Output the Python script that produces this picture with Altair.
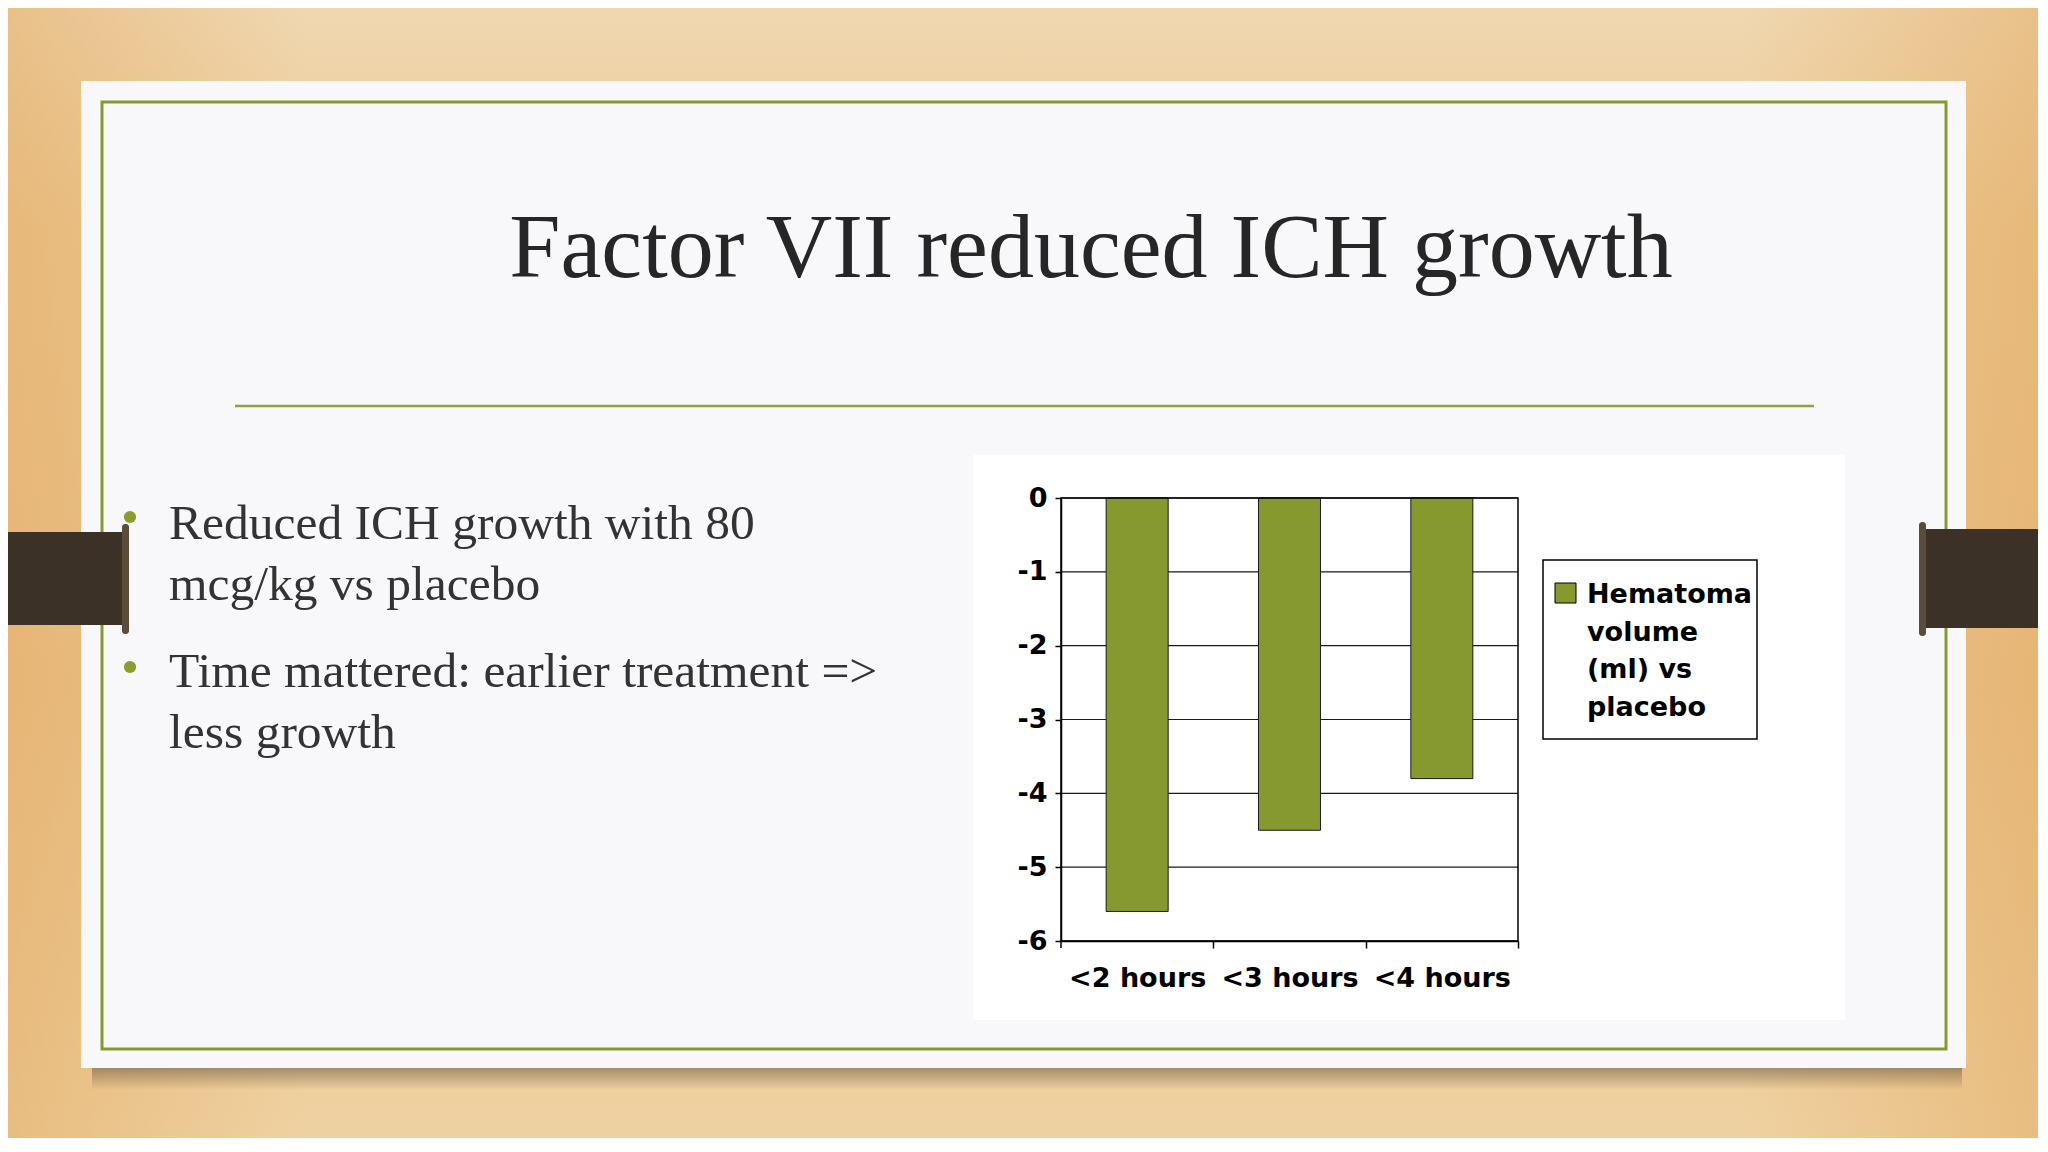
import altair as alt
import pandas as pd

# ---- data -------------------------------------------------------------
categories = ["<2 hours", "<3 hours", "<4 hours"]
hematoma_change = [-5.6, -4.5, -3.8]
y_ticks = [0, -1, -2, -3, -4, -5, -6]
title_text = "Factor VII reduced ICH growth"
bullet1_lines = ["Reduced ICH growth with 80", "mcg/kg vs placebo"]
bullet2_lines = ["Time mattered: earlier treatment =>", "less growth"]
legend_lines = ["Hematoma", "volume", "(ml) vs", "placebo"]

# ---- layout (page pixels) ---------------------------------------------
OX, OY = 1061, 498          # page position of the plot origin
W, H = 457, 443             # plot area
STEP = W / 3


def px(v):
    return v - OX


def py(v):
    return v - OY


bars_df = pd.DataFrame({"period": categories, "change": hematoma_change})
grid_df = pd.DataFrame({"change": y_ticks})
one = alt.Data(values=[{"k": 0}])

GREEN = "#86992f"


def box(x1, y1, x2, y2, **kw):
    return alt.Chart(one).mark_rect(**kw).encode(
        x=alt.value(px(x1)), x2=alt.value(px(x2)),
        y=alt.value(py(y1)), y2=alt.value(py(y2)))


def text_layer(lines, x, y, size, font, color, weight="normal", align="left", lh=None):
    kw = dict(font=font, fontSize=size, color=color, fontWeight=weight,
              align=align, baseline="alphabetic", text=lines)
    if lh:
        kw["lineHeight"] = lh
    return alt.Chart(one).mark_text(**kw).encode(x=alt.value(px(x)), y=alt.value(py(y)))


# wooden background
wood = box(0, 0, 2048, 1152, color=alt.Gradient(
    gradient="linear", x1=0, x2=0, y1=0, y2=1,
    stops=[alt.GradientStop(offset=0, color="#f0d8b2"),
           alt.GradientStop(offset=0.2, color="#ecc994"),
           alt.GradientStop(offset=0.6, color="#eac38c"),
           alt.GradientStop(offset=1, color="#efd2a2")]))
wood_sides = box(0, 0, 2048, 1152, color=alt.Gradient(
    gradient="linear", x1=0, x2=1, y1=0, y2=0,
    stops=[alt.GradientStop(offset=0, color="rgba(226,168,95,0.5)"),
           alt.GradientStop(offset=0.15, color="rgba(226,168,95,0.0)"),
           alt.GradientStop(offset=0.85, color="rgba(226,168,95,0.0)"),
           alt.GradientStop(offset=1, color="rgba(226,168,95,0.5)")]))

shadow = box(92, 1062, 1962, 1090, color=alt.Gradient(
    gradient="linear", x1=0, x2=0, y1=0, y2=1,
    stops=[alt.GradientStop(offset=0, color="rgba(95,80,60,0.65)"),
           alt.GradientStop(offset=1, color="rgba(95,80,60,0.0)")]))
slide = box(81, 81, 1966, 1068, color="#f8f8fa")
border = box(102, 102, 1946, 1049, fillOpacity=0, stroke="#84992f", strokeWidth=3)

title = text_layer(title_text, 1091, 277, 92, "Liberation Serif", "#262626", align="center")
rule = alt.Chart(one).mark_rule(color="#8fa13a", strokeWidth=2.5).encode(
    x=alt.value(px(235)), x2=alt.value(px(1814)), y=alt.value(py(406)))

strap_l = box(0, 532, 127, 625, color="#3b3127")
tab_l = box(122, 524, 129, 634, color="#5b4c3c", cornerRadius=3)
strap_r = box(1921, 529, 2048, 628, color="#3b3127")
tab_r = box(1919, 522, 1926, 636, color="#5b4c3c", cornerRadius=3)

dot1 = alt.Chart(one).mark_circle(color="#8a9e30", opacity=1, size=150).encode(
    x=alt.value(px(130)), y=alt.value(py(517)))
dot2 = alt.Chart(one).mark_circle(color="#8a9e30", opacity=1, size=150).encode(
    x=alt.value(px(130)), y=alt.value(py(667)))
bullet1 = text_layer(bullet1_lines, 169, 539, 49.5, "Liberation Serif", "#333333", lh=61)
bullet2 = text_layer(bullet2_lines, 169, 687, 49.5, "Liberation Serif", "#333333", lh=61)

# chart
chart_bg = box(973, 455, 1845, 1020, color="#ffffff")

y_scale = alt.Scale(domain=[-6, 0], nice=False)
y_axis = alt.Axis(values=y_ticks, title=None, grid=False, labelExpr="'' + datum.value",
                  labelFont="DejaVu Sans", labelFontWeight="bold", labelFontSize=27,
                  labelColor="black", tickColor="black", tickSize=6, tickWidth=1.5,
                  domainColor="black", domainWidth=1.5, labelPadding=8, zindex=1)
x_axis = alt.Axis(title=None, labelAngle=0, tickSize=7, tickOffset=STEP / 2,
                  labelOffset=-STEP / 2,
                  tickColor="black", tickWidth=1.5, domainColor="black", domainWidth=1.5,
                  labelFont="DejaVu Sans", labelFontWeight="bold", labelFontSize=27,
                  labelColor="black", labelPadding=17, labelLimit=400,
                  labelOverlap=False, zindex=1)

grid = alt.Chart(grid_df).mark_rule(color="#1a1a1a", strokeWidth=1.2).encode(
    y=alt.Y("change:Q", scale=y_scale, axis=y_axis),
    x=alt.value(0), x2=alt.value(W))

bars = alt.Chart(bars_df).mark_bar(color=GREEN, stroke="#1a1a1a", strokeWidth=1).encode(
    x=alt.X("period:N", sort=categories,
            scale=alt.Scale(paddingInner=0.593, paddingOuter=0.2965), axis=x_axis),
    y=alt.Y("change:Q", scale=y_scale, axis=y_axis))

frame = box(OX, OY, OX + W, OY + H, fillOpacity=0, stroke="black", strokeWidth=1.5)
corner_tick = alt.Chart(one).mark_rule(color="black", strokeWidth=1.5).encode(
    x=alt.value(0), y=alt.value(H), y2=alt.value(H + 7))

legend_box = box(1543, 560, 1757, 739, color="#ffffff", stroke="black", strokeWidth=1.5)
legend_swatch = box(1555, 583, 1576, 603, color=GREEN, stroke="black", strokeWidth=1)
legend_text = text_layer(legend_lines, 1587, 603, 27, "DejaVu Sans", "black",
                         weight="bold", lh=37.7)

chart = alt.layer(
    wood, wood_sides, shadow, slide, border, title, rule,
    chart_bg, grid, bars, frame, corner_tick, legend_box, legend_swatch, legend_text,
    strap_l, tab_l, strap_r, tab_r, dot1, dot2, bullet1, bullet2,
).properties(
    width=W, height=H,
    autosize=alt.AutoSizeParams(type="none"),
    padding={"left": 1053, "top": 490, "right": 520, "bottom": 197},
).configure_view(stroke=None).configure(background="#ecc994")

chart.save("out.html", embed_options={"renderer": "svg", "actions": False})
